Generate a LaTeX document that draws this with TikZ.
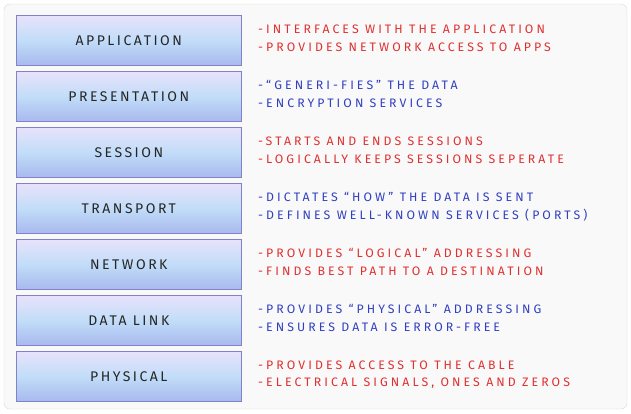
\documentclass[tikz,border=0pt]{standalone}
\usepackage{fontspec}
\setmainfont{Fira Sans}
\definecolor{rred}{HTML}{E03030}
\definecolor{bblue}{HTML}{3040C0}
\definecolor{ltop}{HTML}{E8E2FB}
\definecolor{lmid}{HTML}{C2DDF8}
\definecolor{lbot}{HTML}{A9B9EE}
\tikzset{
 layerbox/.style={draw=gray!60!blue!70, line width=0.6pt, minimum width=225pt, minimum height=50pt, inner sep=0pt, anchor=north west,
   top color=ltop, bottom color=lbot, middle color=lmid, text=black!85, font=\fontsize{14}{14}\selectfont\addfontfeature{LetterSpace=18}},
 note/.style={anchor=west, font=\fontsize{12.3}{12.3}\selectfont\addfontfeature{LetterSpace=25}, inner sep=0pt}
}
\begin{document}
\begin{tikzpicture}[x=1pt,y=-1pt]
\useasboundingbox (0,0) rectangle (631,413);
\draw[draw=gray!30, fill=gray!5, rounded corners=6pt] (4,4) rectangle (627,409);
\foreach \n/\t/\a/\b/\c [count=\i from 0] in {
 app/APPLICATION/{-INTERFACES WITH THE APPLICATION}/{-PROVIDES NETWORK ACCESS TO APPS}/rred,
 pre/PRESENTATION/{-``GENERI-FIES'' THE DATA}/{-ENCRYPTION SERVICES}/bblue,
 ses/SESSION/{-STARTS AND ENDS SESSIONS}/{-LOGICALLY KEEPS SESSIONS SEPERATE}/rred,
 tra/TRANSPORT/{-DICTATES ``HOW'' THE DATA IS SENT}/{-DEFINES WELL-KNOWN SERVICES (PORTS)}/bblue,
 net/NETWORK/{-PROVIDES ``LOGICAL'' ADDRESSING}/{-FINDS BEST PATH TO A DESTINATION}/rred,
 dat/DATA LINK/{-PROVIDES ``PHYSICAL'' ADDRESSING}/{-ENSURES DATA IS ERROR-FREE}/bblue,
 phy/PHYSICAL/{-PROVIDES ACCESS TO THE CABLE}/{-ELECTRICAL SIGNALS, ONES AND ZEROS}/rred}
{
 \node[layerbox] (\n) at (16,15+56*\i) {\t};
 \node[note, text=\c] (\n a) at (258,29+56*\i) {\a};
 \node[note, text=\c] (\n b) at (258,47+56*\i) {\b};
}
\end{tikzpicture}
\end{document}
